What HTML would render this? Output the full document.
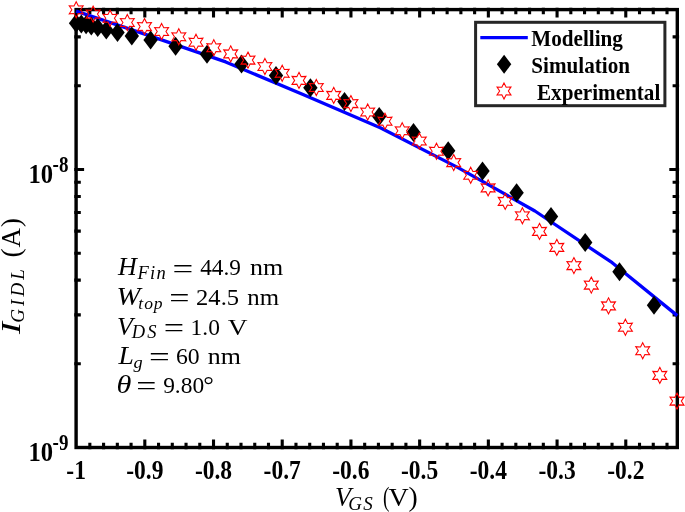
<!DOCTYPE html>
<html lang="en"><head><meta charset="utf-8"><title>I_GIDL vs V_GS</title>
<style>html,body{margin:0;padding:0;background:#fff;overflow:hidden}svg{display:block}.tk{font-family:"Liberation Serif",serif;font-weight:bold;fill:#000}.mt{font-family:"Liberation Serif",serif;fill:#000}.it{font-style:italic}</style></head><body>
<svg width="685" height="512" viewBox="0 0 685 512">
<rect x="0" y="0" width="685" height="512" fill="#fff"/>
<rect x="76.1" y="9.6" width="601.2" height="437.9" fill="none" stroke="#000" stroke-width="3.4"/>
<path fill="none" stroke="#000" stroke-width="3.1" d="M89.84,449.30v-6.50M89.84,7.80v6.50M103.58,449.30v-6.50M103.58,7.80v6.50M117.33,449.30v-6.50M117.33,7.80v6.50M131.07,449.30v-6.50M131.07,7.80v6.50M144.81,449.30v-9.80M144.81,7.80v9.80M158.55,449.30v-6.50M158.55,7.80v6.50M172.29,449.30v-6.50M172.29,7.80v6.50M186.04,449.30v-6.50M186.04,7.80v6.50M199.78,449.30v-6.50M199.78,7.80v6.50M213.52,449.30v-9.80M213.52,7.80v9.80M227.26,449.30v-6.50M227.26,7.80v6.50M241.00,449.30v-6.50M241.00,7.80v6.50M254.75,449.30v-6.50M254.75,7.80v6.50M268.49,449.30v-6.50M268.49,7.80v6.50M282.23,449.30v-9.80M282.23,7.80v9.80M295.97,449.30v-6.50M295.97,7.80v6.50M309.71,449.30v-6.50M309.71,7.80v6.50M323.46,449.30v-6.50M323.46,7.80v6.50M337.20,449.30v-6.50M337.20,7.80v6.50M350.94,449.30v-9.80M350.94,7.80v9.80M364.68,449.30v-6.50M364.68,7.80v6.50M378.42,449.30v-6.50M378.42,7.80v6.50M392.17,449.30v-6.50M392.17,7.80v6.50M405.91,449.30v-6.50M405.91,7.80v6.50M419.65,449.30v-9.80M419.65,7.80v9.80M433.39,449.30v-6.50M433.39,7.80v6.50M447.13,449.30v-6.50M447.13,7.80v6.50M460.88,449.30v-6.50M460.88,7.80v6.50M474.62,449.30v-6.50M474.62,7.80v6.50M488.36,449.30v-9.80M488.36,7.80v9.80M502.10,449.30v-6.50M502.10,7.80v6.50M515.84,449.30v-6.50M515.84,7.80v6.50M529.59,449.30v-6.50M529.59,7.80v6.50M543.33,449.30v-6.50M543.33,7.80v6.50M557.07,449.30v-9.80M557.07,7.80v9.80M570.81,449.30v-6.50M570.81,7.80v6.50M584.55,449.30v-6.50M584.55,7.80v6.50M598.30,449.30v-6.50M598.30,7.80v6.50M612.04,449.30v-6.50M612.04,7.80v6.50M625.78,449.30v-9.80M625.78,7.80v9.80M639.52,449.30v-6.50M639.52,7.80v6.50M653.26,449.30v-6.50M653.26,7.80v6.50M667.01,449.30v-6.50M667.01,7.80v6.50M74.30,363.81h6.50M679.10,363.81h-6.50M74.30,314.86h6.50M679.10,314.86h-6.50M74.30,280.13h6.50M679.10,280.13h-6.50M74.30,253.19h6.50M679.10,253.19h-6.50M74.30,231.17h6.50M679.10,231.17h-6.50M74.30,212.56h6.50M679.10,212.56h-6.50M74.30,196.44h6.50M679.10,196.44h-6.50M74.30,182.22h6.50M679.10,182.22h-6.50M74.30,169.50h9.80M679.10,169.50h-9.80M74.30,85.81h6.50M679.10,85.81h-6.50M74.30,36.86h6.50M679.10,36.86h-6.50"/>
<polyline fill="none" stroke="#0000ff" stroke-width="3.3" stroke-linejoin="round" points="76.1,11.1 148.4,35.4 225.7,61.9 303.0,94.5 380.3,127.7 457.6,167.4 534.9,211.0 612.2,262.7 677.3,315.6"/>
<polygon fill="#000" points="76.1,13.8 83.3,23.3 76.1,32.8 68.9,23.3"/>
<polygon fill="#000" points="81.3,14.4 88.5,23.9 81.3,33.4 74.1,23.9"/>
<polygon fill="#000" points="86.1,15.2 93.3,24.7 86.1,34.2 78.9,24.7"/>
<polygon fill="#000" points="91.3,16.5 98.5,26.0 91.3,35.5 84.1,26.0"/>
<polygon fill="#000" points="97.7,18.0 104.9,27.5 97.7,37.0 90.5,27.5"/>
<polygon fill="#000" points="106.3,20.5 113.5,30.0 106.3,39.5 99.1,30.0"/>
<polygon fill="#000" points="117.5,23.1 124.7,32.6 117.5,42.1 110.3,32.6"/>
<polygon fill="#000" points="131.8,26.5 139.0,36.0 131.8,45.5 124.6,36.0"/>
<polygon fill="#000" points="150.6,30.6 157.8,40.1 150.6,49.6 143.4,40.1"/>
<polygon fill="#000" points="175.6,36.8 182.8,46.3 175.6,55.8 168.4,46.3"/>
<polygon fill="#000" points="207.0,44.7 214.2,54.2 207.0,63.7 199.8,54.2"/>
<polygon fill="#000" points="241.5,54.6 248.7,64.1 241.5,73.6 234.3,64.1"/>
<polygon fill="#000" points="276.0,65.9 283.2,75.4 276.0,84.9 268.8,75.4"/>
<polygon fill="#000" points="310.4,78.3 317.6,87.8 310.4,97.3 303.2,87.8"/>
<polygon fill="#000" points="344.5,91.9 351.7,101.4 344.5,110.9 337.3,101.4"/>
<polygon fill="#000" points="379.2,106.9 386.4,116.4 379.2,125.9 372.0,116.4"/>
<polygon fill="#000" points="413.5,123.1 420.7,132.6 413.5,142.1 406.3,132.6"/>
<polygon fill="#000" points="448.2,141.2 455.4,150.7 448.2,160.2 441.0,150.7"/>
<polygon fill="#000" points="482.5,161.6 489.7,171.1 482.5,180.6 475.3,171.1"/>
<polygon fill="#000" points="516.6,183.2 523.8,192.7 516.6,202.2 509.4,192.7"/>
<polygon fill="#000" points="551.0,206.9 558.2,216.4 551.0,225.9 543.8,216.4"/>
<polygon fill="#000" points="585.2,233.0 592.4,242.5 585.2,252.0 578.0,242.5"/>
<polygon fill="#000" points="619.5,262.2 626.7,271.7 619.5,281.2 612.3,271.7"/>
<polygon fill="#000" points="654.0,295.7 661.2,305.2 654.0,314.7 646.8,305.2"/>
<polygon fill="#fff" fill-opacity="0" stroke="#ff0000" stroke-width="1.05" stroke-linejoin="miter" points="76.20,1.75 78.37,6.04 83.17,5.78 80.55,9.80 83.17,13.82 78.37,13.56 76.20,17.85 74.03,13.56 69.23,13.83 71.85,9.80 69.23,5.77 74.03,6.04"/>
<polygon fill="#fff" fill-opacity="0" stroke="#ff0000" stroke-width="1.05" stroke-linejoin="miter" points="93.10,6.05 95.27,10.34 100.07,10.07 97.45,14.10 100.07,18.12 95.27,17.86 93.10,22.15 90.93,17.86 86.13,18.13 88.75,14.10 86.13,10.07 90.93,10.34"/>
<polygon fill="#fff" fill-opacity="0" stroke="#ff0000" stroke-width="1.05" stroke-linejoin="miter" points="110.10,10.25 112.27,14.54 117.07,14.27 114.45,18.30 117.07,22.32 112.27,22.06 110.10,26.35 107.93,22.06 103.13,22.32 105.75,18.30 103.13,14.27 107.93,14.54"/>
<polygon fill="#fff" fill-opacity="0" stroke="#ff0000" stroke-width="1.05" stroke-linejoin="miter" points="127.30,14.45 129.47,18.74 134.27,18.48 131.65,22.50 134.27,26.52 129.47,26.26 127.30,30.55 125.13,26.26 120.33,26.53 122.95,22.50 120.33,18.47 125.13,18.74"/>
<polygon fill="#fff" fill-opacity="0" stroke="#ff0000" stroke-width="1.05" stroke-linejoin="miter" points="144.50,18.55 146.67,22.84 151.47,22.57 148.85,26.60 151.47,30.62 146.67,30.36 144.50,34.65 142.33,30.36 137.53,30.62 140.15,26.60 137.53,22.57 142.33,22.84"/>
<polygon fill="#fff" fill-opacity="0" stroke="#ff0000" stroke-width="1.05" stroke-linejoin="miter" points="161.60,23.45 163.77,27.74 168.57,27.48 165.95,31.50 168.57,35.52 163.77,35.26 161.60,39.55 159.43,35.26 154.63,35.53 157.25,31.50 154.63,27.47 159.43,27.74"/>
<polygon fill="#fff" fill-opacity="0" stroke="#ff0000" stroke-width="1.05" stroke-linejoin="miter" points="178.80,28.75 180.97,33.04 185.77,32.77 183.15,36.80 185.77,40.82 180.97,40.56 178.80,44.85 176.63,40.56 171.83,40.83 174.45,36.80 171.83,32.77 176.63,33.04"/>
<polygon fill="#fff" fill-opacity="0" stroke="#ff0000" stroke-width="1.05" stroke-linejoin="miter" points="196.00,34.15 198.17,38.44 202.97,38.17 200.35,42.20 202.97,46.22 198.17,45.96 196.00,50.25 193.83,45.96 189.03,46.23 191.65,42.20 189.03,38.17 193.83,38.44"/>
<polygon fill="#fff" fill-opacity="0" stroke="#ff0000" stroke-width="1.05" stroke-linejoin="miter" points="213.80,39.65 215.97,43.94 220.77,43.67 218.15,47.70 220.77,51.72 215.97,51.46 213.80,55.75 211.63,51.46 206.83,51.73 209.45,47.70 206.83,43.67 211.63,43.94"/>
<polygon fill="#fff" fill-opacity="0" stroke="#ff0000" stroke-width="1.05" stroke-linejoin="miter" points="230.70,45.85 232.87,50.14 237.67,49.88 235.05,53.90 237.67,57.92 232.87,57.66 230.70,61.95 228.53,57.66 223.73,57.93 226.35,53.90 223.73,49.88 228.53,50.14"/>
<polygon fill="#fff" fill-opacity="0" stroke="#ff0000" stroke-width="1.05" stroke-linejoin="miter" points="248.00,52.05 250.17,56.34 254.97,56.08 252.35,60.10 254.97,64.12 250.17,63.86 248.00,68.15 245.83,63.86 241.03,64.12 243.65,60.10 241.03,56.08 245.83,56.34"/>
<polygon fill="#fff" fill-opacity="0" stroke="#ff0000" stroke-width="1.05" stroke-linejoin="miter" points="264.90,58.45 267.07,62.74 271.87,62.48 269.25,66.50 271.87,70.53 267.07,70.26 264.90,74.55 262.73,70.26 257.93,70.53 260.55,66.50 257.93,62.48 262.73,62.74"/>
<polygon fill="#fff" fill-opacity="0" stroke="#ff0000" stroke-width="1.05" stroke-linejoin="miter" points="282.20,65.25 284.37,69.54 289.17,69.28 286.55,73.30 289.17,77.33 284.37,77.06 282.20,81.35 280.03,77.06 275.23,77.33 277.85,73.30 275.23,69.28 280.03,69.54"/>
<polygon fill="#fff" fill-opacity="0" stroke="#ff0000" stroke-width="1.05" stroke-linejoin="miter" points="299.00,72.35 301.17,76.64 305.97,76.38 303.35,80.40 305.97,84.43 301.17,84.16 299.00,88.45 296.83,84.16 292.03,84.43 294.65,80.40 292.03,76.38 296.83,76.64"/>
<polygon fill="#fff" fill-opacity="0" stroke="#ff0000" stroke-width="1.05" stroke-linejoin="miter" points="316.30,79.45 318.47,83.74 323.27,83.47 320.65,87.50 323.27,91.53 318.47,91.26 316.30,95.55 314.13,91.26 309.33,91.53 311.95,87.50 309.33,83.47 314.13,83.74"/>
<polygon fill="#fff" fill-opacity="0" stroke="#ff0000" stroke-width="1.05" stroke-linejoin="miter" points="333.70,87.35 335.87,91.64 340.67,91.38 338.05,95.40 340.67,99.43 335.87,99.16 333.70,103.45 331.53,99.16 326.73,99.43 329.35,95.40 326.73,91.38 331.53,91.64"/>
<polygon fill="#fff" fill-opacity="0" stroke="#ff0000" stroke-width="1.05" stroke-linejoin="miter" points="350.90,95.55 353.07,99.84 357.87,99.58 355.25,103.60 357.87,107.62 353.07,107.36 350.90,111.65 348.73,107.36 343.93,107.63 346.55,103.60 343.93,99.58 348.73,99.84"/>
<polygon fill="#fff" fill-opacity="0" stroke="#ff0000" stroke-width="1.05" stroke-linejoin="miter" points="367.70,103.95 369.87,108.24 374.67,107.97 372.05,112.00 374.67,116.03 369.87,115.76 367.70,120.05 365.53,115.76 360.73,116.03 363.35,112.00 360.73,107.97 365.53,108.24"/>
<polygon fill="#fff" fill-opacity="0" stroke="#ff0000" stroke-width="1.05" stroke-linejoin="miter" points="385.00,113.15 387.17,117.44 391.97,117.17 389.35,121.20 391.97,125.22 387.17,124.96 385.00,129.25 382.83,124.96 378.03,125.23 380.65,121.20 378.03,117.17 382.83,117.44"/>
<polygon fill="#fff" fill-opacity="0" stroke="#ff0000" stroke-width="1.05" stroke-linejoin="miter" points="402.20,122.75 404.37,127.04 409.17,126.78 406.55,130.80 409.17,134.83 404.37,134.56 402.20,138.85 400.03,134.56 395.23,134.83 397.85,130.80 395.23,126.78 400.03,127.04"/>
<polygon fill="#fff" fill-opacity="0" stroke="#ff0000" stroke-width="1.05" stroke-linejoin="miter" points="419.30,132.95 421.47,137.24 426.27,136.97 423.65,141.00 426.27,145.03 421.47,144.76 419.30,149.05 417.13,144.76 412.33,145.03 414.95,141.00 412.33,136.97 417.13,137.24"/>
<polygon fill="#fff" fill-opacity="0" stroke="#ff0000" stroke-width="1.05" stroke-linejoin="miter" points="436.50,143.15 438.67,147.44 443.47,147.18 440.85,151.20 443.47,155.23 438.67,154.96 436.50,159.25 434.33,154.96 429.53,155.23 432.15,151.20 429.53,147.18 434.33,147.44"/>
<polygon fill="#fff" fill-opacity="0" stroke="#ff0000" stroke-width="1.05" stroke-linejoin="miter" points="453.70,154.55 455.87,158.84 460.67,158.57 458.05,162.60 460.67,166.62 455.87,166.36 453.70,170.65 451.53,166.36 446.73,166.62 449.35,162.60 446.73,158.57 451.53,158.84"/>
<polygon fill="#fff" fill-opacity="0" stroke="#ff0000" stroke-width="1.05" stroke-linejoin="miter" points="470.70,167.15 472.87,171.44 477.67,171.18 475.05,175.20 477.67,179.23 472.87,178.96 470.70,183.25 468.53,178.96 463.73,179.23 466.35,175.20 463.73,171.18 468.53,171.44"/>
<polygon fill="#fff" fill-opacity="0" stroke="#ff0000" stroke-width="1.05" stroke-linejoin="miter" points="488.10,179.85 490.27,184.14 495.07,183.88 492.45,187.90 495.07,191.93 490.27,191.66 488.10,195.95 485.93,191.66 481.13,191.93 483.75,187.90 481.13,183.88 485.93,184.14"/>
<polygon fill="#fff" fill-opacity="0" stroke="#ff0000" stroke-width="1.05" stroke-linejoin="miter" points="505.20,193.35 507.37,197.64 512.17,197.38 509.55,201.40 512.17,205.43 507.37,205.16 505.20,209.45 503.03,205.16 498.23,205.43 500.85,201.40 498.23,197.38 503.03,197.64"/>
<polygon fill="#fff" fill-opacity="0" stroke="#ff0000" stroke-width="1.05" stroke-linejoin="miter" points="522.40,207.75 524.57,212.04 529.37,211.78 526.75,215.80 529.37,219.83 524.57,219.56 522.40,223.85 520.23,219.56 515.43,219.83 518.05,215.80 515.43,211.78 520.23,212.04"/>
<polygon fill="#fff" fill-opacity="0" stroke="#ff0000" stroke-width="1.05" stroke-linejoin="miter" points="539.50,223.35 541.67,227.64 546.47,227.38 543.85,231.40 546.47,235.43 541.67,235.16 539.50,239.45 537.33,235.16 532.53,235.43 535.15,231.40 532.53,227.38 537.33,227.64"/>
<polygon fill="#fff" fill-opacity="0" stroke="#ff0000" stroke-width="1.05" stroke-linejoin="miter" points="556.80,239.35 558.97,243.64 563.77,243.38 561.15,247.40 563.77,251.43 558.97,251.16 556.80,255.45 554.63,251.16 549.83,251.43 552.45,247.40 549.83,243.38 554.63,243.64"/>
<polygon fill="#fff" fill-opacity="0" stroke="#ff0000" stroke-width="1.05" stroke-linejoin="miter" points="573.90,257.55 576.07,261.84 580.87,261.57 578.25,265.60 580.87,269.62 576.07,269.36 573.90,273.65 571.73,269.36 566.93,269.62 569.55,265.60 566.93,261.57 571.73,261.84"/>
<polygon fill="#fff" fill-opacity="0" stroke="#ff0000" stroke-width="1.05" stroke-linejoin="miter" points="591.30,277.05 593.47,281.34 598.27,281.07 595.65,285.10 598.27,289.12 593.47,288.86 591.30,293.15 589.13,288.86 584.33,289.12 586.95,285.10 584.33,281.07 589.13,281.34"/>
<polygon fill="#fff" fill-opacity="0" stroke="#ff0000" stroke-width="1.05" stroke-linejoin="miter" points="608.50,297.85 610.67,302.14 615.47,301.88 612.85,305.90 615.47,309.92 610.67,309.66 608.50,313.95 606.33,309.66 601.53,309.92 604.15,305.90 601.53,301.88 606.33,302.14"/>
<polygon fill="#fff" fill-opacity="0" stroke="#ff0000" stroke-width="1.05" stroke-linejoin="miter" points="625.40,319.15 627.57,323.44 632.37,323.18 629.75,327.20 632.37,331.22 627.57,330.96 625.40,335.25 623.23,330.96 618.43,331.22 621.05,327.20 618.43,323.18 623.23,323.44"/>
<polygon fill="#fff" fill-opacity="0" stroke="#ff0000" stroke-width="1.05" stroke-linejoin="miter" points="642.70,342.65 644.87,346.94 649.67,346.68 647.05,350.70 649.67,354.72 644.87,354.46 642.70,358.75 640.53,354.46 635.73,354.72 638.35,350.70 635.73,346.68 640.53,346.94"/>
<polygon fill="#fff" fill-opacity="0" stroke="#ff0000" stroke-width="1.05" stroke-linejoin="miter" points="659.80,367.35 661.97,371.64 666.77,371.38 664.15,375.40 666.77,379.42 661.97,379.16 659.80,383.45 657.63,379.16 652.83,379.42 655.45,375.40 652.83,371.38 657.63,371.64"/>
<polygon fill="#fff" fill-opacity="0" stroke="#ff0000" stroke-width="1.05" stroke-linejoin="miter" points="677.00,393.05 679.17,397.34 683.97,397.07 681.35,401.10 683.97,405.12 679.17,404.86 677.00,409.15 674.83,404.86 670.03,405.12 672.65,401.10 670.03,397.07 674.83,397.34"/>
<text class="tk" transform="translate(76.1,478.7) scale(1,1.16)" font-size="23.5" text-anchor="middle">-1</text>
<text class="tk" transform="translate(144.8,478.7) scale(1,1.16)" font-size="23.5" text-anchor="middle">-0.9</text>
<text class="tk" transform="translate(213.5,478.7) scale(1,1.16)" font-size="23.5" text-anchor="middle">-0.8</text>
<text class="tk" transform="translate(282.2,478.7) scale(1,1.16)" font-size="23.5" text-anchor="middle">-0.7</text>
<text class="tk" transform="translate(350.9,478.7) scale(1,1.16)" font-size="23.5" text-anchor="middle">-0.6</text>
<text class="tk" transform="translate(419.6,478.7) scale(1,1.16)" font-size="23.5" text-anchor="middle">-0.5</text>
<text class="tk" transform="translate(488.4,478.7) scale(1,1.16)" font-size="23.5" text-anchor="middle">-0.4</text>
<text class="tk" transform="translate(557.1,478.7) scale(1,1.16)" font-size="23.5" text-anchor="middle">-0.3</text>
<text class="tk" transform="translate(625.8,478.7) scale(1,1.16)" font-size="23.5" text-anchor="middle">-0.2</text>
<text class="tk" transform="translate(28.4,183.4) scale(1,1.14)" font-size="24.6">10</text>
<text class="tk" transform="translate(52.6,172.4) scale(1,1.16)" font-size="19">-8</text>
<text class="tk" transform="translate(28.4,461.4) scale(1,1.14)" font-size="24.6">10</text>
<text class="tk" transform="translate(52.6,450.4) scale(1,1.16)" font-size="19">-9</text>
<text class="mt it" x="118.13" y="275.3" font-size="25.8" textLength="18.8" lengthAdjust="spacingAndGlyphs">H</text>
<text class="mt it" x="137.4" y="278.9" font-size="18.5" textLength="28.38" lengthAdjust="spacing">Fin</text>
<text class="mt" x="172.62" y="277.7" font-size="28.0" textLength="20.76" lengthAdjust="spacingAndGlyphs">=</text>
<text class="mt" x="200.15" y="275.3" font-size="24.0" textLength="40.79" lengthAdjust="spacingAndGlyphs">44.9</text>
<text class="mt" x="249.93" y="275.3" font-size="24.0" textLength="33.18" lengthAdjust="spacingAndGlyphs">nm</text>
<text class="mt it" x="116.51" y="304.9" font-size="25.8" textLength="23.89" lengthAdjust="spacingAndGlyphs">W</text>
<text class="mt it" x="138.3" y="308.5" font-size="17.5" textLength="24.32" lengthAdjust="spacing">top</text>
<text class="mt" x="169.26" y="307.3" font-size="28.0" textLength="20.28" lengthAdjust="spacingAndGlyphs">=</text>
<text class="mt" x="196.1" y="304.9" font-size="24.0" textLength="42.95" lengthAdjust="spacingAndGlyphs">24.5</text>
<text class="mt" x="247.25" y="304.9" font-size="24.0" textLength="31.74" lengthAdjust="spacingAndGlyphs">nm</text>
<text class="mt it" x="117.03" y="334.5" font-size="25.8" textLength="15.87" lengthAdjust="spacingAndGlyphs">V</text>
<text class="mt it" x="131.87" y="338.1" font-size="18.5" textLength="24.51" lengthAdjust="spacing">DS</text>
<text class="mt" x="163.75" y="336.9" font-size="28.0" textLength="20.37" lengthAdjust="spacingAndGlyphs">=</text>
<text class="mt" x="190.58" y="334.5" font-size="24.0" textLength="29.3" lengthAdjust="spacingAndGlyphs">1.0</text>
<text class="mt" x="227.71" y="334.5" font-size="24.0" textLength="19.82" lengthAdjust="spacingAndGlyphs">V</text>
<text class="mt it" x="118.4" y="364.0" font-size="25.8" textLength="15.36" lengthAdjust="spacingAndGlyphs">L</text>
<text class="mt it" x="133.45" y="367.6" font-size="17.5" textLength="9.15" lengthAdjust="spacingAndGlyphs">g</text>
<text class="mt" x="149.0" y="366.4" font-size="28.0" textLength="20.76" lengthAdjust="spacingAndGlyphs">=</text>
<text class="mt" x="175.95" y="364.0" font-size="24.0" textLength="23.69" lengthAdjust="spacingAndGlyphs">60</text>
<text class="mt" x="207.82" y="364.0" font-size="24.0" textLength="33.12" lengthAdjust="spacingAndGlyphs">nm</text>
<text class="mt it" x="116.52" y="393.0" font-size="25.8" textLength="14.86" lengthAdjust="spacingAndGlyphs">θ</text>
<text class="mt" x="136.32" y="395.4" font-size="28.0" textLength="20.15" lengthAdjust="spacingAndGlyphs">=</text>
<text class="mt" x="163.17" y="393.0" font-size="24.0" textLength="40.98" lengthAdjust="spacingAndGlyphs">9.80</text>
<text class="mt" x="203.33" y="393.0" font-size="24.0" textLength="10.6" lengthAdjust="spacingAndGlyphs">°</text>
<text class="mt it" x="335.08" y="505.9" font-size="26.4" textLength="16.14" lengthAdjust="spacingAndGlyphs">V</text>
<text class="mt it" x="348.37" y="509.6" font-size="19" textLength="24.37" lengthAdjust="spacing">GS</text>
<text class="mt" x="383.06" y="505.9" font-size="27.5" textLength="6.41" lengthAdjust="spacingAndGlyphs">(</text>
<text class="mt" x="388.6" y="505.9" font-size="25.4" textLength="20.19" lengthAdjust="spacingAndGlyphs">V</text>
<text class="mt" x="408.44" y="505.9" font-size="27.5" textLength="9.23" lengthAdjust="spacingAndGlyphs">)</text>
<text class="mt it" transform="translate(19.6,333.99) rotate(-90)" font-size="26.4" textLength="12.08" lengthAdjust="spacingAndGlyphs">I</text>
<text class="mt it" transform="translate(24.2,322.85) rotate(-90)" font-size="19" textLength="53.76" lengthAdjust="spacing">GIDL</text>
<text class="mt" transform="translate(19.6,257.49) rotate(-90)" font-size="27.5" textLength="9.2" lengthAdjust="spacingAndGlyphs">(</text>
<text class="mt" transform="translate(19.6,247.48) rotate(-90)" font-size="27.5" textLength="19.44" lengthAdjust="spacingAndGlyphs">A</text>
<text class="mt" transform="translate(19.6,227.35) rotate(-90)" font-size="27.5" textLength="9.15" lengthAdjust="spacingAndGlyphs">)</text>
<rect x="475.6" y="22.3" width="189.3" height="83.4" fill="#fff" stroke="#262626" stroke-width="3"/>
<line x1="480.3" y1="37.7" x2="527.8" y2="37.7" stroke="#0000ff" stroke-width="3.3"/>
<polygon fill="#000" points="504.1,54.7 511.3,64.2 504.1,73.7 496.9,64.2"/>
<polygon fill="none" stroke="#ff0000" stroke-width="1.05" points="504.00,82.95 506.17,87.24 510.97,86.97 508.35,91.00 510.97,95.03 506.17,94.76 504.00,99.05 501.83,94.76 497.03,95.03 499.65,91.00 497.03,86.97 501.83,87.24"/>
<text class="tk" transform="translate(531.3,46.1) scale(1,1.05)" font-size="21.15">Modelling</text>
<text class="tk" transform="translate(531.3,73.0) scale(1,1.05)" font-size="21.15">Simulation</text>
<text class="tk" transform="translate(537,99.7) scale(1,1.05)" font-size="21.15">Experimental</text>
</svg></body></html>
